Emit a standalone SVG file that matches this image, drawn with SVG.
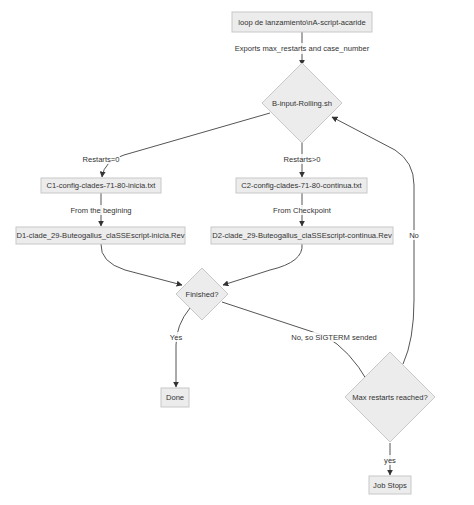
<svg xmlns="http://www.w3.org/2000/svg" width="474" height="505" viewBox="0 0 474 505">
<defs>
<marker id="arr" viewBox="0 0 10 10" refX="9" refY="5" markerWidth="6" markerHeight="6" orient="auto-start-reverse" markerUnits="userSpaceOnUse">
<path d="M0,0 L10,5 L0,10 z" fill="#333"/>
</marker>
<style>
.node rect, .node polygon { fill: #ececec; stroke: #c8c8c8; stroke-width: 1; }
text { font-family: "Liberation Sans", Arial, sans-serif; font-size: 7.6px; fill: #333; text-anchor: middle; dominant-baseline: central; }
.edge { fill: none; stroke: #555; stroke-width: 1; marker-end: url(#arr); }
.lbl { fill: #fff; opacity: 0.85; }
</style>
</defs>
<rect width="474" height="505" fill="#fff"/>
<g id="connectors">
<path class="edge" d="M302,32 L302,65"/>
<path class="edge" d="M270,113 L124,155 Q104,161 102,177"/>
<path class="edge" d="M302,143 L302,177"/>
<path class="edge" d="M101,193 L101,226"/>
<path class="edge" d="M302,193 L302,226"/>
<path class="edge" d="M101,244 Q100,262 125,270 L182,285"/>
<path class="edge" d="M302,244 Q304,262 270,270 L223,285"/>
<path class="edge" d="M190,308 Q176,325 176,345 L176,387"/>
<path class="edge" d="M222,302 L325,336 Q350,350 368,382"/>
<path class="edge" d="M390,443 L390,475"/>
<path class="edge" d="M403,364 Q414,340 414,300 L414,185 Q414,162 395,150 L332,117"/>
</g>
<g id="edge-labels">
<rect class="lbl" x="234" y="43" width="136" height="11"/>
<text x="302" y="48.5">Exports max_restarts and case_number</text>
<rect class="lbl" x="82" y="154" width="38" height="10"/>
<text x="101" y="159">Restarts=0</text>
<rect class="lbl" x="283" y="154" width="38" height="10"/>
<text x="302" y="159">Restarts&gt;0</text>
<rect class="lbl" x="70" y="205" width="62" height="10"/>
<text x="101" y="210">From the begining</text>
<rect class="lbl" x="273" y="205" width="58" height="10"/>
<text x="302" y="210">From Checkpoint</text>
<rect class="lbl" x="406" y="230" width="16" height="10"/>
<text x="414" y="235">No</text>
<rect class="lbl" x="168" y="332" width="16" height="10"/>
<text x="176" y="337">Yes</text>
<rect class="lbl" x="294" y="332" width="80" height="10"/>
<text x="334" y="337">No, so SIGTERM sended</text>
<rect class="lbl" x="383" y="455" width="14" height="10"/>
<text x="390" y="460">yes</text>
</g>
<g id="A" class="node">
<rect x="232" y="12" width="140" height="20"/>
<text x="302" y="22">loop de lanzamiento\nA-script-acaride</text>
</g>
<g id="B" class="node">
<polygon points="302,63 342,103 302,143 262,103"/>
<text x="302" y="103">B-input-Rolling.sh</text>
</g>
<g id="C1" class="node">
<rect x="41" y="178" width="120" height="15"/>
<text x="101" y="185.5">C1-config-clades-71-80-inicia.txt</text>
</g>
<g id="C2" class="node">
<rect x="236" y="178" width="131" height="15"/>
<text x="301.5" y="185.5">C2-config-clades-71-80-continua.txt</text>
</g>
<g id="D1" class="node">
<rect x="16" y="227" width="169" height="17"/>
<text x="100.5" y="235.5">D1-clade_29-Buteogallus_claSSEscript-inicia.Rev</text>
</g>
<g id="D2" class="node">
<rect x="211" y="227" width="182" height="17"/>
<text x="302" y="235.5">D2-clade_29-Buteogallus_claSSEscript-continua.Rev</text>
</g>
<g id="F" class="node">
<polygon points="202,268 228,294 202,320 176,294"/>
<text x="202" y="294">Finished?</text>
</g>
<g id="Done" class="node">
<rect x="161" y="388" width="28" height="19"/>
<text x="175" y="397.5">Done</text>
</g>
<g id="M" class="node">
<polygon points="390,352 435,397 390,442 345,397"/>
<text x="390" y="397">Max restarts reached?</text>
</g>
<g id="J" class="node">
<rect x="369" y="476" width="42" height="18"/>
<text x="390" y="485">Job Stops</text>
</g>
</svg>
